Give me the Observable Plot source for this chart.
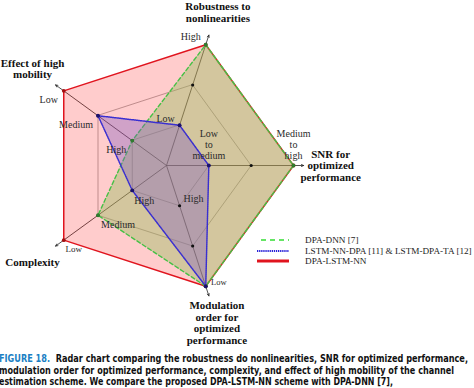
<!DOCTYPE html>
<html><head><meta charset="utf-8">
<script src="https://cdn.jsdelivr.net/npm/d3@7"></script>
<script src="https://cdn.jsdelivr.net/npm/@observablehq/plot@0.6"></script>
<style>
body{margin:0;background:#fff;}
#wrap{position:relative;width:474px;height:388px;overflow:hidden;background:#fff;}
#chart{position:absolute;left:0;top:0;}
#legend{position:absolute;left:257px;top:235px;font-family:"Liberation Serif",serif;font-size:9.2px;color:#222;}
#legend .row{display:flex;align-items:center;height:10.6px;white-space:nowrap;}
#legend svg{width:32px;height:8px;margin-right:16px;overflow:visible;}
#caption{position:absolute;left:-1px;top:353px;font-family:"Liberation Sans Narrow","DejaVu Sans Condensed","Liberation Sans",sans-serif;font-weight:bold;font-size:11px;line-height:11.6px;color:#111;}
#caption div{white-space:nowrap;transform-origin:0 0;width:max-content;}
#caption .fig{color:#1b7fc4;}
</style>
</head><body>
<div id="wrap"><div id="chart"></div><div id="legend"></div><div id="caption"></div></div>
<script>
// ---- data ----
const axisNames = ["Robustness to\nnonlinearities", "SNR for\noptimized\nperformance", "Modulation\norder for\noptimized\nperformance", "Complexity", "Effect of high\nmobility"];
const levelTicks = [1, 2];
const maxLevel = 3;
const seriesNames = ["DPA-DNN [7]", "LSTM-NN-DPA [11] & LSTM-DPA-TA [12]", "DPA-LSTM-NN"];
const dpaDnn = [3, 3, 3, 2, 1];
const lstmNnDpa = [1, 1, 3, 1, 2];
const dpaLstmNn = [3, 3, 3, 3, 3];
const levelLabelAxis = [0, 0, 1, 1, 2, 2, 3, 3, 3, 4, 4, 4];
const levelLabelLevel = [3, 1, 3, 1, 3, 1, 3, 2, 1, 3, 2, 1];
const levelLabelText = ["High", "Low", "Medium\nto\nhigh", "Low\nto\nmedium", "Low", "High", "Low", "Medium", "High", "Low", "Medium", "High"];
const captionFigure = "FIGURE 18.";
const captionLines = [
  "Radar chart comparing the robustness do nonlinearities, SNR for optimized performance,",
  "modulation order for optimized performance, complexity, and effect of high mobility of the channel",
  "estimation scheme. We compare the proposed DPA-LSTM-NN scheme with DPA-DNN [7],"
];

// ---- layout (styles / offsets) ----
const W = 474, H = 348, CX = 166, CY = 165, PX = 127 / 3;
const levelLabelOffset = [[-15,-8],[-14,-7],[0,-21],[0,-21],[13,-4],[14,-7],[10,9],[20,9],[12,10],[-15,9],[-22,9],[-16,9]];
const levelLabelSize = [10,10,10,10,8.5,10,9,10,10,10,10,10];
const axisNameOffset = [[9,-23],[27,0],[8,27],[-23,16],[-23,-16]];
const seriesStyle = [
  {fill: "rgb(150,190,95)", fillOpacity: 0.42, stroke: "#45c045", strokeWidth: 1.4, dash: "4,2.5", dot: "#2f7d2f"},
  {fill: "rgb(125,90,195)", fillOpacity: 0.36, stroke: "#3a2fd0", strokeWidth: 1.5, dash: "1.2,0.8", dot: "#1a1070"},
  {fill: "rgb(255,0,0)", fillOpacity: 0.2, stroke: "#e0141e", strokeWidth: 1.5, dash: null, dot: "#a01010"}
];

const ang = i => (-72 + 72 * i) * Math.PI / 180;
const pt = (r, i) => ({x: r * Math.cos(ang(i)), y: r * Math.sin(ang(i))});
const poly = vals => vals.map((v, i) => pt(v, i));
const seriesVals = [dpaDnn, lstmNnDpa, dpaLstmNn];
const drawOrder = [2, 0, 1];
const serif = "Liberation Serif, Times New Roman, serif";

const marks = [];
// grid pentagons
for (const L of levelTicks) {
  marks.push(Plot.line(poly(axisNames.map(() => L)), {x: "x", y: "y", curve: "linear-closed", stroke: "#8c8c8c", strokeWidth: 0.7}));
}
// axes with arrows
marks.push(Plot.arrow(axisNames.map((d, i) => ({i})), {
  x1: 0, y1: 0, x2: d => pt(maxLevel * 1.08, d.i).x, y2: d => pt(maxLevel * 1.08, d.i).y,
  stroke: "#262626", strokeWidth: 0.8, headLength: 4.5, headAngle: 50
}));
// series polygons
for (const s of drawOrder) {
  const st = seriesStyle[s];
  marks.push(Plot.line(poly(seriesVals[s]), {x: "x", y: "y", curve: "linear-closed", fill: st.fill, fillOpacity: st.fillOpacity,
    stroke: st.stroke, strokeWidth: st.strokeWidth, strokeDasharray: st.dash, strokeLinejoin: "miter"}));
}
// level dots
const levelDots = [];
axisNames.forEach((d, i) => levelTicks.forEach(L => levelDots.push(pt(L, i))));
marks.push(Plot.dot(levelDots, {x: "x", y: "y", r: 1.6, fill: "#111"}));
// vertex dots
for (const s of drawOrder) {
  marks.push(Plot.dot(poly(seriesVals[s]), {x: "x", y: "y", r: 1.9, fill: seriesStyle[s].dot}));
}
// level labels
levelLabelText.forEach((t, k) => {
  const p = pt(levelLabelLevel[k], levelLabelAxis[k]);
  marks.push(Plot.text([{...p, t}], {x: "x", y: "y", text: "t", dx: levelLabelOffset[k][0], dy: levelLabelOffset[k][1],
    fontFamily: serif, fontSize: levelLabelSize[k], fill: "#2a2a2a", lineHeight: 1.1, textAnchor: "middle"}));
});
// axis names
axisNames.forEach((t, i) => {
  const p = pt(maxLevel * 1.08, i);
  marks.push(Plot.text([{...p, t}], {x: "x", y: "y", text: "t", dx: axisNameOffset[i][0], dy: axisNameOffset[i][1],
    fontFamily: serif, fontSize: 11, fontWeight: "bold", fill: "#111", lineHeight: 1.05, textAnchor: "middle"}));
});

const chart = Plot.plot({
  width: W, height: H, margin: 0,
  x: {domain: [-CX / PX, (W - CX) / PX], range: [0, W], axis: null},
  y: {domain: [-CY / PX, (H - CY) / PX], range: [0, H], axis: null},
  style: {background: "transparent", overflow: "visible"},
  marks
});
document.getElementById("chart").appendChild(chart);

// legend
const legend = document.getElementById("legend");
seriesNames.forEach((name, s) => {
  const row = document.createElement("div");
  row.className = "row";
  const sw = s === 0 ? {stroke: "#33dd33", w: 1.6, dash: "5,4", off: "-4"} : s === 1 ? {stroke: "#2a22d8", w: 2, dash: "1.3,0.8", off: "0"} : {stroke: "#e0141e", w: 3, dash: "none", off: "0"};
  row.innerHTML = `<svg viewBox="0 0 32 8"><line x1="0" y1="4" x2="32" y2="4" stroke="${sw.stroke}" stroke-width="${sw.w}" stroke-dasharray="${sw.dash}" stroke-dashoffset="${sw.off}"/></svg><span>${name}</span>`;
  legend.appendChild(row);
});

// caption
const cap = document.getElementById("caption");
captionLines.forEach((line, k) => {
  const div = document.createElement("div");
  if (k === 0) {
    const f = document.createElement("span"); f.className = "fig"; f.textContent = captionFigure + "\u00a0\u00a0";
    div.appendChild(f);
  }
  div.appendChild(document.createTextNode(line));
  cap.appendChild(div);
});
const targets = [469, 455, 394];
[...cap.children].forEach((div, k) => {
  const w = div.getBoundingClientRect().width;
  div.style.transform = `scaleX(${targets[k] / w})`;
});
</script>
</body></html>
